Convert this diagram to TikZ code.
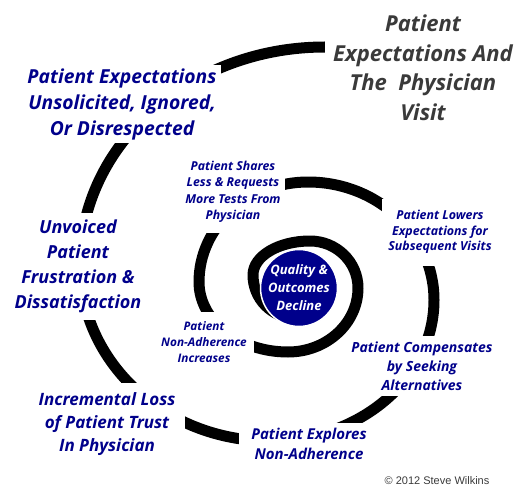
\documentclass[tikz,border=0pt]{standalone}
\usepackage{fontspec}
\setmainfont{Open Sans}
\newfontfamily\arialish{Liberation Sans}
\definecolor{navyt}{RGB}{0,0,139}
\definecolor{titlegray}{RGB}{58,58,58}
\newcommand\labfont[2]{\fontsize{#1}{#2}\selectfont\bfseries\itshape}
\begin{document}
\begin{tikzpicture}[x=1pt,y=-1pt,
  lab/.style={fill=white, align=center, text=navyt},
  spiral/.style={line width=11pt, line join=round, black}]
\useasboundingbox (0,0) rectangle (525,500);
% spiral: quarter arcs between the extreme points of each turn
\coordinate (s0) at (350,47);
\coordinate (t1) at (325,47);
\coordinate (l1) at (80,265);
\coordinate (b1) at (270,441);
\coordinate (r1) at (434,300);
\coordinate (t2) at (308,182);
\coordinate (l2) at (199,282);
\coordinate (b2) at (288,352);
\coordinate (r2) at (358,288);
\coordinate (t3) at (310,241);
\coordinate (l3) at (253,275);
\coordinate (b3) at (295,318);
\draw[spiral] (s0) -- (t1)
  .. controls (189.7,47) and (80,144.6) .. (l1)
  .. controls (80,362.2) and (165.1,441) .. (b1)
  .. controls (360.6,441) and (434,377.9) .. (r1)
  .. controls (434,234.8) and (377.6,182) .. (t2)
  .. controls (247.8,182) and (199,226.8) .. (l2)
  .. controls (199,320.7) and (238.8,352) .. (b2)
  .. controls (326.7,352) and (358,323.3) .. (r2)
  .. controls (358,262) and (336.5,241) .. (t3)
  .. controls (278.5,241) and (253,256.2) .. (l3)
  .. controls (253,298.7) and (271.8,318) .. (b3);
\node[lab, text=titlegray, inner xsep=8pt, inner ysep=4pt, font=\labfont{22}{29.5}] (title) at (423,68)
  {Patient\\Expectations And\\The\ \ Physician\\Visit};
\node[lab, inner xsep=4pt, inner ysep=3pt, font=\labfont{19.3}{26}] (unsol) at (122,104)
  {Patient Expectations\\Unsolicited, Ignored,\\Or Disrespected};
\node[lab, inner xsep=5pt, inner ysep=7pt, font=\labfont{18}{25}] (unvoiced) at (78,266)
  {Unvoiced\\Patient\\Frustration \&\\Dissatisfaction};
\node[lab, inner xsep=10pt, inner ysep=10pt, font=\labfont{17}{23}] (trust) at (107,424)
  {Incremental Loss\\of Patient Trust\\In Physician};
\node[lab, inner xsep=12pt, inner ysep=5pt, font=\labfont{15}{20}] (explores) at (309,444)
  {Patient Explores\\Non-Adherence};
\node[lab, inner xsep=5pt, inner ysep=6pt, font=\labfont{14}{19}] (comp) at (422,366)
  {Patient Compensates\\by Seeking\\Alternatives};
\node[lab, inner xsep=6pt, inner ysep=12pt, font=\labfont{12.4}{15.3}] (lowers) at (440,232)
  {Patient Lowers\\Expectations for\\Subsequent Visits};
\node[lab, inner xsep=4pt, inner ysep=10pt, font=\labfont{12.3}{16.5}] (shares) at (233,192)
  {Patient Shares\\Less \& Requests\\More Tests From\\Physician};
\node[lab, inner xsep=7pt, inner ysep=9pt, font=\labfont{11.8}{16}] (nonadh) at (204,342)
  {Patient\\Non-Adherence\\Increases};
\node[circle, fill=navyt, draw=white, line width=1.5pt, minimum size=77pt, inner sep=0pt,
  align=center, text=white, font=\labfont{13}{18}] (quality) at (299,288)
  {Quality \&\\Outcomes\\Decline};
\node[text=titlegray, font=\arialish\fontsize{11}{13}\selectfont] (copy) at (437,481)
  {© 2012 Steve Wilkins};
\end{tikzpicture}
\end{document}
